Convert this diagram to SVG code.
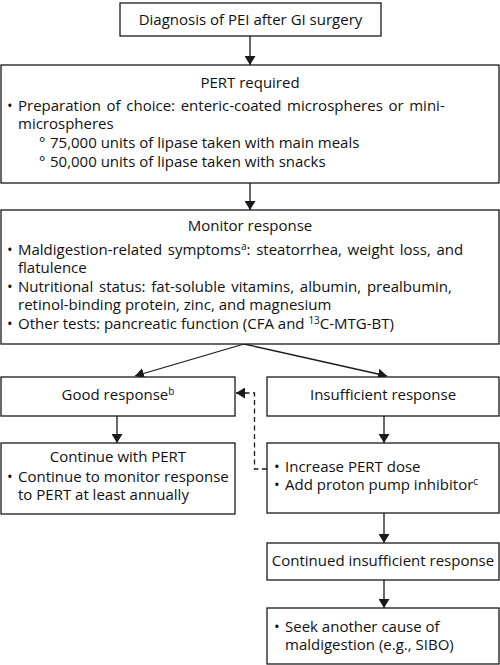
<svg xmlns="http://www.w3.org/2000/svg" width="500" height="665" viewBox="0 0 500 665">
<style>
.box{fill:#fff;stroke:#1a1a1a;stroke-width:1.3}
text{font-family:"Open Sans","Noto Sans",sans-serif;font-size:15px;fill:#111}
.c{text-anchor:middle}
.ln{stroke:#1a1a1a;stroke-width:1.3;fill:none}
.d{stroke-dasharray:5,3.5}
.sup{font-size:10px}
</style>
<defs>
<marker id="ah" viewBox="0 0 9 11" refX="9" refY="5.5" markerWidth="9" markerHeight="11" markerUnits="userSpaceOnUse" orient="auto">
<path d="M0,0 L9,5.5 L0,11 Z" fill="#1a1a1a"/>
</marker>
</defs>
<rect width="500" height="665" fill="#fff"/>
<g id="connectors">
<line class="ln" x1="250" y1="36" x2="250" y2="65" marker-end="url(#ah)"/>
<line class="ln" x1="250" y1="183" x2="250" y2="210" marker-end="url(#ah)"/>
<line class="ln" x1="244" y1="344" x2="135" y2="376" marker-end="url(#ah)"/>
<line class="ln" x1="244" y1="344" x2="387" y2="376" marker-end="url(#ah)"/>
<line class="ln" x1="117" y1="416" x2="117" y2="443" marker-end="url(#ah)"/>
<line class="ln" x1="384" y1="416" x2="384" y2="443" marker-end="url(#ah)"/>
<line class="ln" x1="384" y1="513" x2="384" y2="543" marker-end="url(#ah)"/>
<line class="ln" x1="384" y1="580" x2="384" y2="608" marker-end="url(#ah)"/>
<path class="ln d" d="M267,469 H254.5 V393 H236" marker-end="url(#ah)"/>
</g>
<g id="n1">
<rect class="box" x="120" y="3" width="261" height="33"/>
<text class="c" x="250.5" y="25">Diagnosis of PEI after GI surgery</text>
</g>
<g id="n2">
<rect class="box" x="1" y="65" width="498" height="118"/>
<text class="c" x="250" y="88">PERT required</text>
<text x="7" y="111">•<tspan x="18" word-spacing="1.75">Preparation of choice: enteric-coated microspheres or mini-</tspan></text>
<text x="18" y="129">microspheres</text>
<text x="39" y="148">°<tspan x="50">75,000 units of lipase taken with main meals</tspan></text>
<text x="39" y="167">°<tspan x="50">50,000 units of lipase taken with snacks</tspan></text>
</g>
<g id="n3">
<rect class="box" x="1" y="210" width="498" height="134"/>
<text class="c" x="250" y="231">Monitor response</text>
<text x="7" y="255" word-spacing="1.8">•<tspan x="18">Maldigestion-related symptoms</tspan><tspan class="sup" dy="-5">a</tspan><tspan dy="5">: steatorrhea, weight loss, and</tspan></text>
<text x="18" y="273">flatulence</text>
<text x="7" y="292">•<tspan x="18" word-spacing="1.9">Nutritional status: fat-soluble vitamins, albumin, prealbumin,</tspan></text>
<text x="18" y="310">retinol-binding protein, zinc, and magnesium</text>
<text x="7" y="329">•<tspan x="18">Other tests: pancreatic function (CFA and </tspan><tspan class="sup" dy="-5">13</tspan><tspan dy="5">C-MTG-BT)</tspan></text>
</g>
<g id="n4">
<rect class="box" x="1" y="377" width="234" height="39"/>
<text class="c" x="118" y="400">Good response<tspan class="sup" dy="-5">b</tspan></text>
</g>
<g id="n5">
<rect class="box" x="267" y="377" width="232" height="39"/>
<text class="c" x="383" y="400">Insufficient response</text>
</g>
<g id="n6">
<rect class="box" x="1" y="443" width="234" height="71"/>
<text class="c" x="118" y="462">Continue with PERT</text>
<text x="7" y="482">•<tspan x="18">Continue to monitor response</tspan></text>
<text x="18" y="500">to PERT at least annually</text>
</g>
<g id="n7">
<rect class="box" x="267" y="443" width="232" height="70"/>
<text x="274" y="472">•<tspan x="285">Increase PERT dose</tspan></text>
<text x="274" y="490">•<tspan x="285">Add proton pump inhibitor</tspan><tspan class="sup" dy="-5">c</tspan></text>
</g>
<g id="n8">
<rect class="box" x="267" y="543" width="232" height="37"/>
<text class="c" x="383" y="566">Continued insufficient response</text>
</g>
<g id="n9">
<rect class="box" x="267" y="608" width="232" height="56"/>
<text x="274" y="632">•<tspan x="285">Seek another cause of</tspan></text>
<text x="285" y="650">maldigestion (e.g., SIBO)</text>
</g>
</svg>
